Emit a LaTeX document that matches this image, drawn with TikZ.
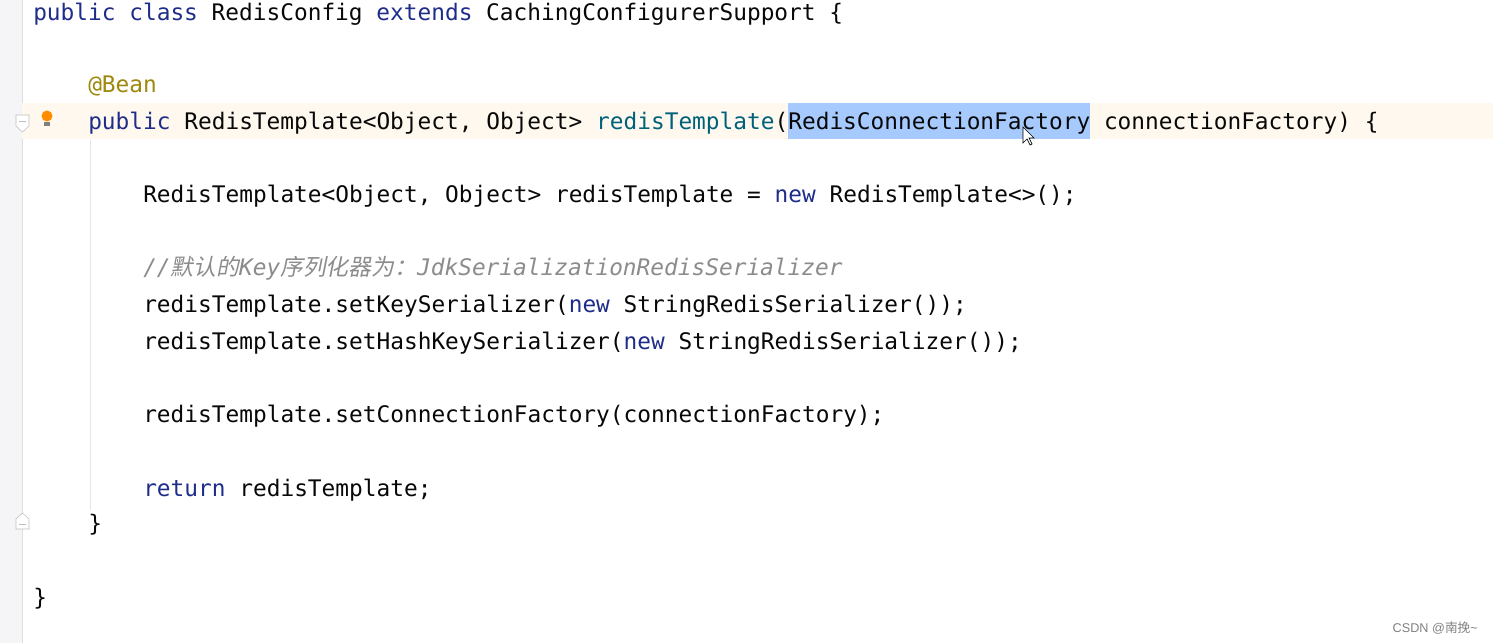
\documentclass[tikz,border=0pt]{standalone}
\usepackage{fontspec}
\setmonofont{DejaVu Sans Mono}
\newfontfamily\cjkfont[FakeSlant=0.2]{Noto Sans CJK SC}
\newfontfamily\cjkup{Noto Sans CJK SC}
\newfontfamily\wmfont{Liberation Sans}
\definecolor{kw}{HTML}{1F2D8A}
\definecolor{ann}{HTML}{9E880D}
\definecolor{cmt}{HTML}{8C8C8C}
\definecolor{meth}{HTML}{00627A}
\definecolor{txt}{HTML}{080808}
\definecolor{sel}{HTML}{A6CAFE}
\definecolor{curline}{HTML}{FEF8EE}
\definecolor{gut}{HTML}{F5F5F7}
\tikzset{code/.style={anchor=base west,inner sep=0pt,font=\ttfamily\fontsize{17.1}{20}\selectfont,text=txt}}
\begin{document}
\begin{tikzpicture}[x=0.75pt,y=-0.75pt]
\useasboundingbox (0,0) rectangle (1493,643);
\fill[white] (0,0) rectangle (1493,643);
\fill[gut] (0,0) rectangle (22,643);
\draw[gray!25] (22,0) -- (22,643);
\fill[curline] (22,103) rectangle (1493,139);
\fill[sel] (788,103) rectangle (1090,139);
\draw[gray!20] (90,140) -- (90,510);
% fold markers
\draw[gray!50,fill=white] (16,115) -- (29,115) -- (29,126) -- (22.5,132) -- (16,126) -- cycle;
\draw[gray!50] (19,121) -- (26,121);
\draw[gray!50,fill=white] (16,529) -- (29,529) -- (29,519) -- (22.5,513) -- (16,519) -- cycle;
\draw[gray!50] (19,524) -- (26,524);
% bulb
\fill[orange!90!yellow] (47,116) circle (5.5);
\fill[gray] (44,122) rectangle (50,126);
% cursor
\draw[black,fill=white,line width=0.5pt] (1023,127) -- (1023,143) -- (1027,139) -- (1030,145) -- (1032,144) -- (1029,138) -- (1034,138) -- cycle;
\node[code] (l1) at (33,20) {{\color{kw}public class} RedisConfig {\color{kw}extends} CachingConfigurerSupport \{};
\node[code,text=ann] (l2) at (88,92) {@Bean};
\node[code] (l3) at (88,129) {{\color{kw}public} RedisTemplate<Object, Object> {\color{meth}redisTemplate}(RedisConnectionFactory connectionFactory) \{};
\node[code] (l4) at (143,202) {RedisTemplate<Object, Object> redisTemplate = {\color{kw}new} RedisTemplate<>();};
\node[code,text=cmt] (l5) at (143,275) {\itshape //{\cjkfont 默认的}Key{\cjkfont 序列化器为：}JdkSerializationRedisSerializer};
\node[code] (l6) at (143,312) {redisTemplate.setKeySerializer({\color{kw}new} StringRedisSerializer());};
\node[code] (l7) at (143,349) {redisTemplate.setHashKeySerializer({\color{kw}new} StringRedisSerializer());};
\node[code] (l8) at (143,422) {redisTemplate.setConnectionFactory(connectionFactory);};
\node[code] (l9) at (143,496) {{\color{kw}return} redisTemplate;};
\node[code] (l10) at (88,531) {\}};
\node[code] (l11) at (33,605) {\}};
\node[anchor=base east,inner sep=0pt,text=gray,font=\fontsize{9.5}{11}\selectfont] (wm) at (1478,632) {\wmfont CSDN @{\cjkup 南挽}\textasciitilde};
\end{tikzpicture}
\end{document}
